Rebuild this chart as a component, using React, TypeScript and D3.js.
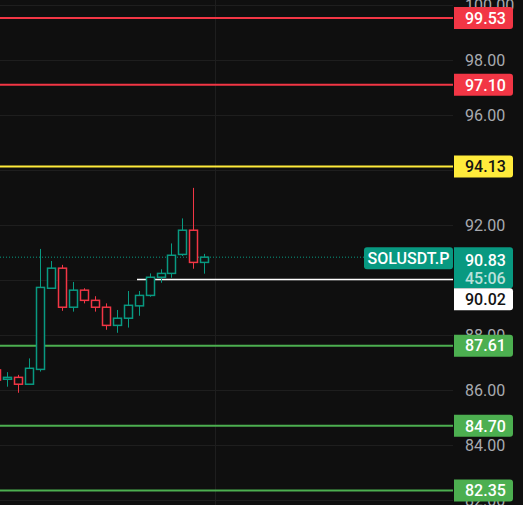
import React from "react";
import * as d3 from "d3";

const W = 523;
const H = 505;

const opens = [86.73, 86.39, 86.46, 86.21, 86.75, 89.70, 90.43, 89.01, 89.63, 89.26, 89.01, 88.35, 88.61, 89.06, 89.44, 90.10, 90.24, 90.93, 91.81, 90.64];
const highs = [86.80, 86.65, 86.55, 87.15, 91.13, 90.69, 90.55, 89.93, 89.70, 89.41, 89.15, 88.91, 89.60, 89.60, 90.24, 90.39, 91.33, 92.24, 93.35, 90.95];
const lows = [86.30, 86.12, 85.90, 86.20, 86.67, 89.68, 88.88, 88.85, 89.15, 88.85, 88.19, 88.08, 88.27, 88.70, 89.39, 89.90, 90.08, 90.87, 90.41, 90.23];
const closes = [86.36, 86.46, 86.21, 86.79, 89.73, 90.43, 89.01, 89.63, 89.26, 89.01, 88.35, 88.61, 89.08, 89.44, 90.10, 90.24, 90.90, 91.81, 90.64, 90.83];

const gridValues = [82, 84, 86, 88, 90, 92, 94, 96, 98, 100];
// tick labels not fully hidden behind price labels
const tickLabels = [82, 84, 86, 88, 92, 96, 98, 100];

const levelPrices = [99.53, 97.1, 94.13, 87.61, 84.7, 82.35];
const levelKinds = ["red", "red", "yellow", "green", "green", "green"];

const symbolName = "SOLUSDT.P";
const lastPrice = 90.83;
const countdown = "45:06";
const markPrice = 90.02;

const COLORS: Record<string, { line: string; box: string; text: string }> = {
  red: { line: "#f23645", box: "#f23645", text: "#ffffff" },
  yellow: { line: "#ffeb3b", box: "#ffeb3b", text: "#131313" },
  green: { line: "#4caf50", box: "#4caf50", text: "#ffffff" },
};

const UP = "#089981";
const DOWN = "#f23645";
const BG = "#0f0f0f";
const GRID = "#1e1e1e";
const PLOT_R = 453;
const BOX_L = 454;
const BOX_W = 59;
const TEXT_X = 465;
const FONT = "Roboto, 'Noto Sans', sans-serif";

function boxPath(x: number, y: number, w: number, h: number, r: number) {
  return `M${x},${y} H${x + w - r} Q${x + w},${y} ${x + w},${y + r} V${y + h - r} Q${x + w},${y + h} ${x + w - r},${y + h} H${x} Z`;
}

export default function App() {
  const y = d3.scaleLinear().domain([82, 100]).range([500, 5]);
  const x = d3.scaleLinear().domain([0, opens.length - 1]).range([-3.7, 204.3]);
  const bodyW = 8;
  const idx = d3.range(opens.length);

  return (
    <svg
      width={W}
      height={H}
      style={{ position: "absolute", left: 0, top: 0, display: "block" }}
      fontFamily={FONT}
    >
      <rect x={0} y={0} width={W} height={H} fill={BG} />
      {gridValues.map((t) => (
        <line key={"g" + t} x1={0} x2={PLOT_R} y1={Math.round(y(t)) + 0.5} y2={Math.round(y(t)) + 0.5} stroke={GRID} strokeWidth={1} />
      ))}
      <line x1={215.5} x2={215.5} y1={0} y2={H} stroke={GRID} strokeWidth={1} />

      {levelPrices.map((p, i) => (
        <line key={"l" + i} x1={0} x2={PLOT_R} y1={y(p)} y2={y(p)} stroke={COLORS[levelKinds[i]].line} strokeWidth={2} />
      ))}
      <line x1={137} x2={PLOT_R} y1={y(markPrice)} y2={y(markPrice)} stroke="#ffffff" strokeWidth={1.5} />
      <line x1={0} x2={PLOT_R} y1={y(lastPrice)} y2={y(lastPrice)} stroke={UP} strokeWidth={1} strokeDasharray="1 2" />

      {idx.map((i) => {
        const up = closes[i] >= opens[i];
        const c = up ? UP : DOWN;
        const cx = Math.round(x(i)) + 0.5;
        const top = y(Math.max(opens[i], closes[i]));
        const bot = y(Math.min(opens[i], closes[i]));
        return (
          <g key={"c" + i}>
            <line x1={cx} x2={cx} y1={y(highs[i])} y2={top} stroke={c} strokeWidth={1} />
            <line x1={cx} x2={cx} y1={bot} y2={y(lows[i])} stroke={c} strokeWidth={1} />
            <rect x={cx - bodyW / 2} y={top} width={bodyW} height={Math.max(1, bot - top)} fill={BG} stroke={c} strokeWidth={1.5} />
          </g>
        );
      })}

      {tickLabels.map((t) => (
        <text key={"t" + t} x={TEXT_X} y={y(t)} dy="0.36em" fill="#a8aab0" fontSize={16}>
          {t.toFixed(2)}
        </text>
      ))}

      {levelPrices.map((p, i) => {
        const cy = y(p);
        const col = COLORS[levelKinds[i]];
        return (
          <g key={"lb" + i}>
            <path d={boxPath(BOX_L, cy - 11, BOX_W, 22, 3)} fill={col.box} />
            <text x={TEXT_X} y={cy} dy="0.36em" fill={col.text} fontSize={16} fontWeight={500}>
              {p.toFixed(2)}
            </text>
          </g>
        );
      })}

      <path d={boxPath(BOX_L, 247.3, BOX_W, 41, 3)} fill={UP} />
      <text x={TEXT_X} y={260} dy="0.36em" fill="#ffffff" fontSize={16} fontWeight={500}>
        {lastPrice.toFixed(2)}
      </text>
      <text x={TEXT_X} y={278} dy="0.36em" fill="#ffffff" fillOpacity={0.72} fontSize={16} fontWeight={500}>
        {countdown}
      </text>
      <path d={boxPath(BOX_L, 288.3, BOX_W, 22, 3)} fill="#ffffff" />
      <text x={TEXT_X} y={299.3} dy="0.36em" fill="#131313" fontSize={16} fontWeight={500}>
        {markPrice.toFixed(2)}
      </text>
      <rect x={364} y={247.3} width={89} height={22} rx={3} fill={UP} />
      <text x={408.5} y={258.3} dy="0.36em" textAnchor="middle" fill="#ffffff" fontSize={16} fontWeight={500}>
        {symbolName}
      </text>
    </svg>
  );
}
